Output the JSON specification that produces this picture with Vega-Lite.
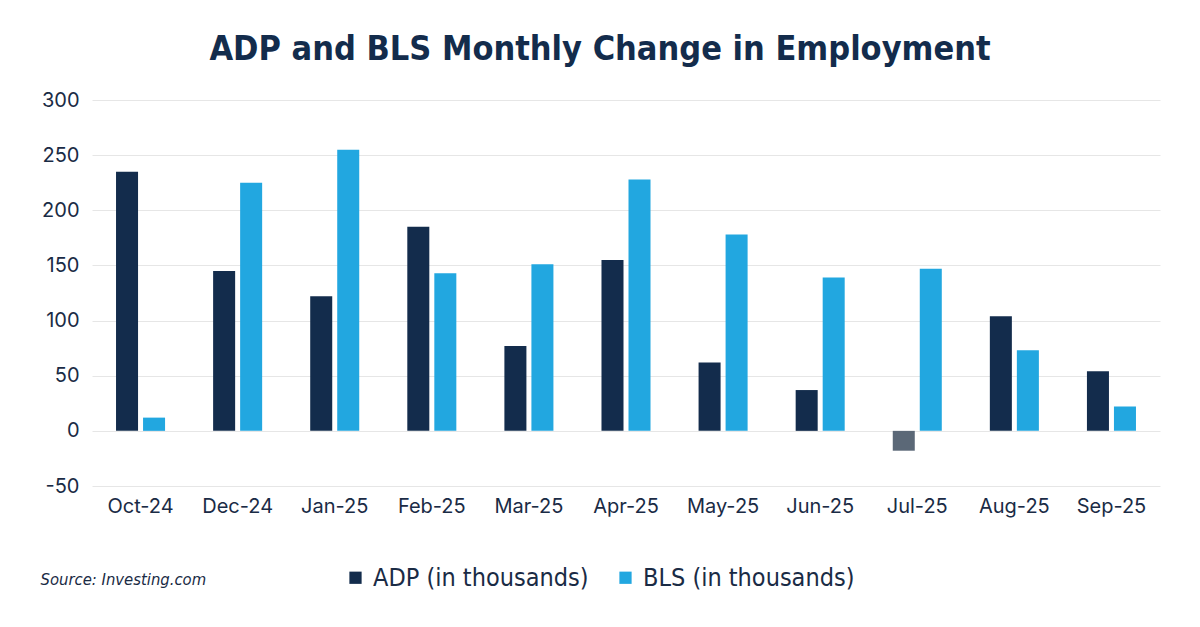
{
  "$schema": "https://vega.github.io/schema/vega-lite/v6.json",
  "autosize": "none",
  "width": 1068,
  "height": 386,
  "padding": {"left": 92, "top": 100, "right": 40, "bottom": 141},
  "background": "white",
  "title": {
    "text": "ADP and BLS Monthly Change in Employment",
    "anchor": "middle",
    "frame": "bounds",
    "font": "DejaVu Sans Condensed",
    "fontWeight": "bold",
    "fontSize": 34,
    "color": "#132c4c",
    "offset": 23
  },
  "data": {
    "values": [
      {"month": "Oct-24", "series": "ADP (in thousands)", "value": 235},
      {"month": "Oct-24", "series": "BLS (in thousands)", "value": 12},
      {"month": "Dec-24", "series": "ADP (in thousands)", "value": 145},
      {"month": "Dec-24", "series": "BLS (in thousands)", "value": 225},
      {"month": "Jan-25", "series": "ADP (in thousands)", "value": 122},
      {"month": "Jan-25", "series": "BLS (in thousands)", "value": 255},
      {"month": "Feb-25", "series": "ADP (in thousands)", "value": 185},
      {"month": "Feb-25", "series": "BLS (in thousands)", "value": 143},
      {"month": "Mar-25", "series": "ADP (in thousands)", "value": 77},
      {"month": "Mar-25", "series": "BLS (in thousands)", "value": 151},
      {"month": "Apr-25", "series": "ADP (in thousands)", "value": 155},
      {"month": "Apr-25", "series": "BLS (in thousands)", "value": 228},
      {"month": "May-25", "series": "ADP (in thousands)", "value": 62},
      {"month": "May-25", "series": "BLS (in thousands)", "value": 178},
      {"month": "Jun-25", "series": "ADP (in thousands)", "value": 37},
      {"month": "Jun-25", "series": "BLS (in thousands)", "value": 139},
      {"month": "Jul-25", "series": "ADP (in thousands)", "value": -18},
      {"month": "Jul-25", "series": "BLS (in thousands)", "value": 147},
      {"month": "Aug-25", "series": "ADP (in thousands)", "value": 104},
      {"month": "Aug-25", "series": "BLS (in thousands)", "value": 73},
      {"month": "Sep-25", "series": "ADP (in thousands)", "value": 54},
      {"month": "Sep-25", "series": "BLS (in thousands)", "value": 22}
    ]
  },
  "mark": {"type": "bar"},
  "encoding": {
    "x": {
      "field": "month",
      "type": "nominal",
      "sort": null,
      "scale": {"paddingInner": 0.495, "paddingOuter": 0.2475},
      "axis": {
        "title": "Source: Investing.com",
        "titleFont": "DejaVu Sans Condensed",
        "titleFontStyle": "italic",
        "titleFontWeight": "normal",
        "titleFontSize": 16.5,
        "titleColor": "#1a2b45",
        "titleAnchor": "start",
        "titleAlign": "left",
        "titleBaseline": "middle",
        "titleX": -52,
        "titleY": 93,
        "labelAngle": 0,
        "labelFont": "Inter",
        "labelFontSize": 20,
        "labelColor": "#1a2b45",
        "labelPadding": 10,
        "domain": false,
        "ticks": false,
        "grid": false
      }
    },
    "xOffset": {
      "field": "series",
      "type": "nominal",
      "scale": {"paddingInner": 0.185, "paddingOuter": 0}
    },
    "y": {
      "field": "value",
      "type": "quantitative",
      "scale": {"domain": [-50, 300], "nice": false, "zero": false},
      "axis": {
        "title": null,
        "values": [-50, 0, 50, 100, 150, 200, 250, 300],
        "labelExpr": "replace(datum.label, '\u2212', '-')",
        "labelFont": "Inter",
        "labelFontSize": 20,
        "labelColor": "#1a2b45",
        "labelPadding": 13,
        "domain": false,
        "ticks": false,
        "gridColor": "#e6e6e6",
        "gridWidth": 1
      }
    },
    "color": {
      "condition": {"test": "datum.value < 0", "value": "#5b6877"},
      "field": "series",
      "type": "nominal",
      "scale": {"range": ["#132c4c", "#22a7e0"]},
      "legend": {
        "title": null,
        "orient": "none",
        "direction": "horizontal",
        "legendX": 251,
        "legendY": 465,
        "symbolType": "square",
        "symbolSize": 150,
        "symbolStrokeWidth": 0,
        "labelFont": "DejaVu Sans Condensed",
        "labelFontSize": 25,
        "labelColor": "#1a2b45",
        "labelOffset": 5,
        "labelLimit": 400,
        "columnPadding": 24
      }
    }
  },
  "config": {"view": {"stroke": null}}
}
